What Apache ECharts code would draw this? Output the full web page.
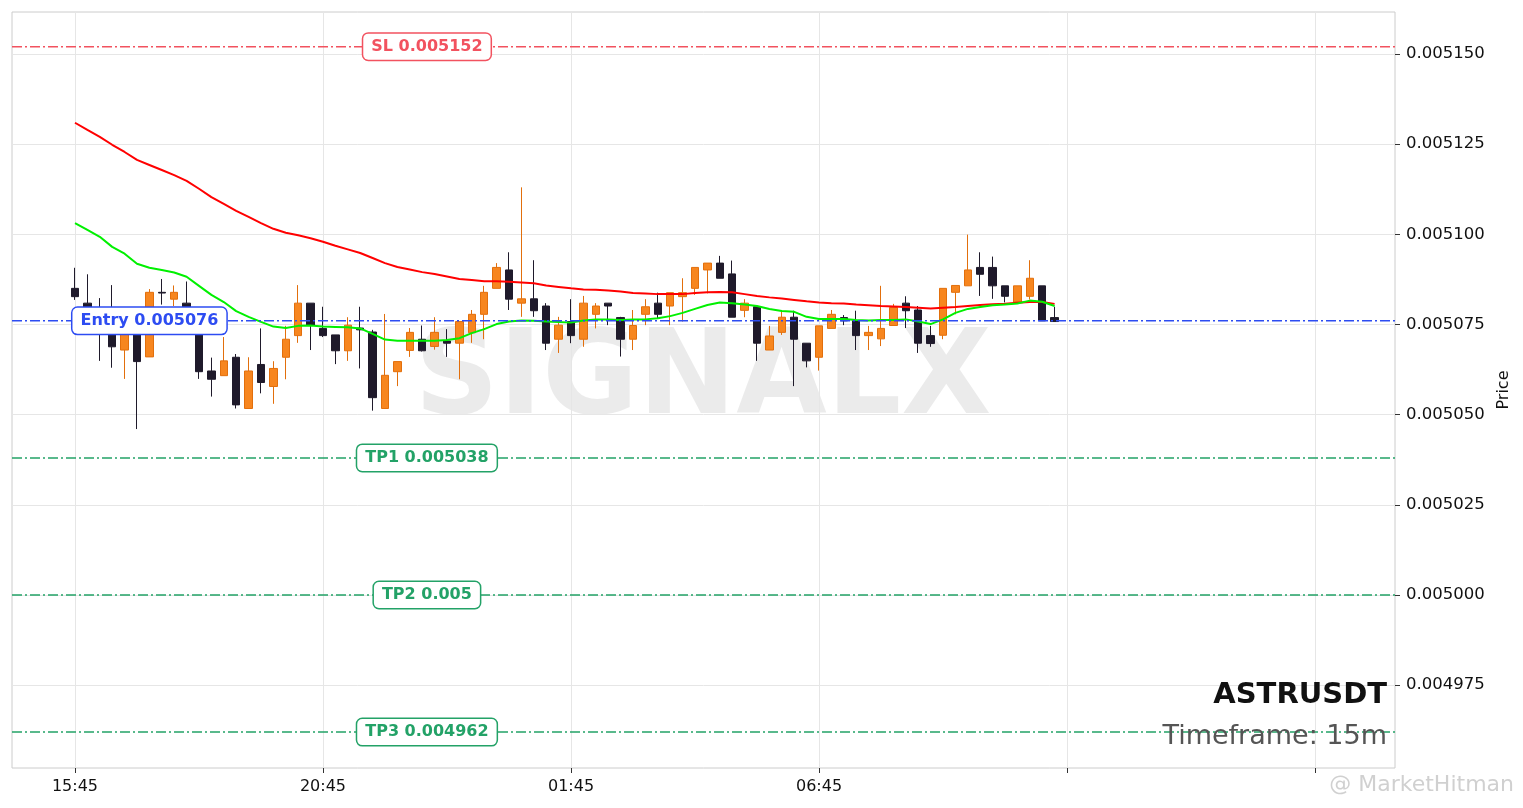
<!DOCTYPE html>
<html>
<head>
<meta charset="utf-8">
<script src="https://cdn.jsdelivr.net/npm/echarts@6/dist/echarts.min.js"></script>
<style>
html,body{margin:0;padding:0;background:#fff;}
#chart{width:1523px;height:808px;}
</style>
</head>
<body>
<div id="chart"></div>
<script>
// ---- data (15m candles, 15:45 -> 11:30) ----
const candleOpen = [
0.0050850,0.0050809,0.0050785,0.0050735,0.0050679,0.0050740,0.0050660,0.0050839,0.0050820,0.0050809,
0.0050770,0.0050621,0.0050608,0.0050659,0.0050517,0.0050639,0.0050578,0.0050659,0.0050719,0.0050809,
0.0050739,0.0050721,0.0050677,0.0050740,0.0050729,0.0050517,0.0050619,0.0050678,0.0050709,0.0050689,
0.0050704,0.0050698,0.0050727,0.0050778,0.0050850,0.0050901,0.0050809,0.0050821,0.0050801,0.0050709,
0.0050758,0.0050709,0.0050778,0.0050809,0.0050769,0.0050709,0.0050778,0.0050809,0.0050801,0.0050827,
0.0050850,0.0050901,0.0050920,0.0050890,0.0050789,0.0050799,0.0050679,0.0050728,0.0050770,0.0050698,
0.0050659,0.0050739,0.0050769,0.0050760,0.0050719,0.0050710,0.0050747,0.0050809,0.0050790,0.0050719,
0.0050720,0.0050839,0.0050857,0.0050908,0.0050908,0.0050857,0.0050812,0.0050828,0.0050857,0.0050769];
const candleHigh = [
0.0050907,0.0050889,0.0050823,0.0050859,0.0050750,0.0050755,0.0050848,0.0050876,0.0050858,0.0050869,
0.0050780,0.0050658,0.0050715,0.0050668,0.0050659,0.0050739,0.0050648,0.0050746,0.0050859,0.0050809,
0.0050799,0.0050721,0.0050770,0.0050799,0.0050735,0.0050779,0.0050647,0.0050740,0.0050747,0.0050770,
0.0050737,0.0050758,0.0050790,0.0050857,0.0050920,0.0050950,0.0051130,0.0050928,0.0050809,0.0050771,
0.0050820,0.0050829,0.0050809,0.0050809,0.0050771,0.0050790,0.0050820,0.0050838,0.0050838,0.0050878,
0.0050908,0.0050920,0.0050940,0.0050927,0.0050820,0.0050799,0.0050746,0.0050787,0.0050788,0.0050698,
0.0050746,0.0050790,0.0050776,0.0050788,0.0050746,0.0050857,0.0050807,0.0050828,0.0050801,0.0050746,
0.0050850,0.0050858,0.0050999,0.0050950,0.0050938,0.0050857,0.0050857,0.0050928,0.0050857,0.0050799];
const candleLow = [
0.0050818,0.0050760,0.0050649,0.0050630,0.0050599,0.0050460,0.0050660,0.0050805,0.0050801,0.0050755,
0.0050599,0.0050550,0.0050608,0.0050517,0.0050517,0.0050559,0.0050530,0.0050598,0.0050699,0.0050679,
0.0050715,0.0050640,0.0050649,0.0050628,0.0050511,0.0050517,0.0050579,0.0050660,0.0050675,0.0050680,
0.0050660,0.0050598,0.0050699,0.0050709,0.0050850,0.0050790,0.0050771,0.0050771,0.0050679,0.0050671,
0.0050698,0.0050688,0.0050739,0.0050748,0.0050661,0.0050679,0.0050748,0.0050767,0.0050748,0.0050758,
0.0050832,0.0050836,0.0050878,0.0050770,0.0050770,0.0050649,0.0050679,0.0050721,0.0050579,0.0050631,
0.0050622,0.0050739,0.0050748,0.0050679,0.0050679,0.0050690,0.0050747,0.0050740,0.0050671,0.0050688,
0.0050709,0.0050778,0.0050857,0.0050829,0.0050821,0.0050811,0.0050812,0.0050819,0.0050760,0.0050758];
const candleClose = [
0.0050827,0.0050785,0.0050735,0.0050688,0.0050740,0.0050647,0.0050839,0.0050837,0.0050839,0.0050770,
0.0050619,0.0050598,0.0050649,0.0050527,0.0050621,0.0050589,0.0050628,0.0050709,0.0050809,0.0050748,
0.0050719,0.0050677,0.0050748,0.0050735,0.0050547,0.0050609,0.0050647,0.0050728,0.0050677,0.0050728,
0.0050698,0.0050758,0.0050778,0.0050839,0.0050908,0.0050820,0.0050821,0.0050788,0.0050698,0.0050748,
0.0050719,0.0050809,0.0050801,0.0050801,0.0050709,0.0050747,0.0050799,0.0050778,0.0050838,0.0050838,
0.0050908,0.0050920,0.0050878,0.0050770,0.0050809,0.0050698,0.0050718,0.0050770,0.0050709,0.0050649,
0.0050746,0.0050778,0.0050760,0.0050719,0.0050728,0.0050739,0.0050797,0.0050788,0.0050698,0.0050697,
0.0050850,0.0050858,0.0050901,0.0050889,0.0050857,0.0050828,0.0050857,0.0050878,0.0050760,0.0050758];
const emaSlow = [
0.0051309,0.0051289,0.0051270,0.0051248,0.0051228,0.0051206,0.0051192,0.0051178,0.0051164,0.0051148,
0.0051126,0.0051103,0.0051084,0.0051065,0.0051048,0.0051031,0.0051015,0.0051004,0.0050997,0.0050989,
0.0050979,0.0050968,0.0050958,0.0050948,0.0050934,0.0050920,0.0050909,0.0050902,0.0050895,0.0050890,
0.0050883,0.0050876,0.0050873,0.0050870,0.0050870,0.0050868,0.0050866,0.0050864,0.0050858,0.0050854,
0.0050850,0.0050847,0.0050846,0.0050844,0.0050841,0.0050837,0.0050836,0.0050834,0.0050834,0.0050834,
0.0050837,0.0050839,0.0050840,0.0050839,0.0050834,0.0050829,0.0050825,0.0050822,0.0050818,0.0050814,
0.0050811,0.0050809,0.0050808,0.0050805,0.0050803,0.0050801,0.0050800,0.0050798,0.0050796,0.0050794,
0.0050796,0.0050798,0.0050801,0.0050804,0.0050806,0.0050807,0.0050810,0.0050812,0.0050812,0.0050807];
const emaFast = [
0.0051031,0.0051012,0.0050993,0.0050965,0.0050946,0.0050918,0.0050907,0.0050901,0.0050894,0.0050882,
0.0050857,0.0050832,0.0050812,0.0050787,0.0050771,0.0050757,0.0050744,0.0050740,0.0050746,0.0050747,
0.0050744,0.0050743,0.0050742,0.0050739,0.0050724,0.0050708,0.0050705,0.0050705,0.0050705,0.0050705,
0.0050707,0.0050712,0.0050726,0.0050737,0.0050751,0.0050758,0.0050761,0.0050760,0.0050758,0.0050757,
0.0050755,0.0050761,0.0050764,0.0050764,0.0050762,0.0050764,0.0050764,0.0050767,0.0050773,0.0050782,
0.0050793,0.0050804,0.0050811,0.0050809,0.0050805,0.0050801,0.0050793,0.0050787,0.0050785,0.0050771,
0.0050765,0.0050765,0.0050765,0.0050762,0.0050761,0.0050762,0.0050762,0.0050764,0.0050758,0.0050751,
0.0050764,0.0050782,0.0050793,0.0050798,0.0050803,0.0050805,0.0050808,0.0050816,0.0050813,0.0050801];

const xTickPos = [0, 20, 40, 60, 80, 100];
const xTickLabels = ['15:45', '20:45', '01:45', '06:45', '', ''];
const yTicks = [0.004975, 0.005, 0.005025, 0.00505, 0.005075, 0.0051, 0.005125, 0.00515];

const levelNames = ['SL', 'Entry', 'TP1', 'TP2', 'TP3'];
const levelValues = [0.005152, 0.005076, 0.005038, 0.005, 0.004962];
const levelLabelText = ['SL 0.005152', 'Entry 0.005076', 'TP1 0.005038', 'TP2 0.005', 'TP3 0.004962'];

const symbolName = 'ASTRUSDT';
const timeframeText = 'Timeframe: 15m';

// ---- styling / layout ----
const X_MIN = -5.08, X_MAX = 106.45;
const Y_MIN = 0.00495205, Y_MAX = 0.0051616;
const levelColors = ['#f2525f', '#2d4cf2', '#23a267', '#23a267', '#23a267'];
const levelLabelX = [28.38, 6.0, 28.38, 28.38, 28.38];
const FONT = '"DejaVu Sans", sans-serif';

const candleData = candleOpen.map((o, i) => [i, o, candleClose[i], candleLow[i], candleHigh[i]]);
const slowData = emaSlow.map((v, i) => [i, v]);
const fastData = emaFast.map((v, i) => [i, v]);

const dashDot = [10, 3, 2, 3];

const levelSeries = levelValues.map((v, i) => ({
  type: 'line', name: levelNames[i], z: 6, symbol: 'none', silent: true,
  data: [[X_MIN, v], [X_MAX, v]],
  lineStyle: {color: levelColors[i], width: 1.5, type: dashDot}
}));

const labelSeries = {
  type: 'scatter', name: 'level labels', z: 8, silent: true,
  symbol: 'rect', symbolSize: 1, itemStyle: {color: 'rgba(0,0,0,0)', opacity: 1},
  data: levelValues.map((v, i) => ({
    value: [levelLabelX[i], v],
    label: {
      show: true, position: 'inside', formatter: levelLabelText[i],
      color: levelColors[i], fontSize: 16, fontWeight: 'bold', fontFamily: FONT,
      backgroundColor: '#ffffff', borderColor: levelColors[i], borderWidth: 1.5, borderRadius: 5,
      padding: [4, 8], lineHeight: 18, opacity: 1
    }
  }))
};

const chart = echarts.init(document.getElementById('chart'), null, {renderer: 'canvas'});
const option = {
  animation: false,
  backgroundColor: '#ffffff',
  textStyle: {fontFamily: FONT},
  grid: {left: 12, right: 128, top: 12, bottom: 40, show: true, borderColor: '#cccccc', borderWidth: 1, backgroundColor: 'rgba(0,0,0,0)'},
  xAxis: {
    type: 'value', min: X_MIN, max: X_MAX,
    axisLine: {show: false, onZero: false},
    axisTick: {show: true, length: 5, lineStyle: {color: '#333'}, customValues: xTickPos},
    axisLabel: {
      customValues: xTickPos, color: '#111', fontSize: 16, margin: 11, fontFamily: FONT,
      formatter: v => { const k = xTickPos.indexOf(Math.round(v)); return k >= 0 ? xTickLabels[k] : ''; }
    },
    splitLine: {show: true, lineStyle: {color: '#e6e6e6', width: 1}}
  },
  yAxis: {
    type: 'value', position: 'right', min: Y_MIN, max: Y_MAX,
    name: 'Price', nameLocation: 'middle', nameRotate: 90, nameGap: 100,
    nameTextStyle: {fontSize: 16, color: '#111', fontFamily: FONT},
    axisLine: {show: false, onZero: false},
    axisTick: {show: true, length: 5, lineStyle: {color: '#333'}, customValues: yTicks},
    axisLabel: {customValues: yTicks, color: '#111', fontSize: 16.5, margin: 11, fontFamily: FONT, formatter: v => v.toFixed(6)},
    splitLine: {show: true, lineStyle: {color: '#e6e6e6', width: 1}}
  },
  graphic: [
    {type: 'text', x: 703, y: 383, z: -1, style: {text: 'SIGNALX', fontSize: 117, fontWeight: 'bold', fontFamily: FONT, fill: 'rgba(120,120,120,0.15)', align: 'center', verticalAlign: 'middle'}},
    {type: 'text', x: 1387, y: 695, z: 10, style: {text: symbolName, fontSize: 29, fontWeight: 'bold', fontFamily: FONT, fill: '#111', align: 'right', verticalAlign: 'middle'}},
    {type: 'text', x: 1387, y: 737, z: 10, style: {text: timeframeText, fontSize: 27, fontFamily: FONT, fill: '#555', align: 'right', verticalAlign: 'middle'}},
    {type: 'text', x: 1514, y: 785, z: 10, style: {text: '@ MarketHitman', fontSize: 22, fontFamily: FONT, fill: 'rgba(150,150,150,0.45)', align: 'right', verticalAlign: 'middle'}}
  ],
  series: [
    {
      type: 'candlestick', name: 'price', data: candleData, barWidth: 8, z: 2,
      encode: {x: 0, y: [1, 2, 3, 4]},
      itemStyle: {color: '#f7861f', color0: '#1f1a2b', borderColor: '#e26f0c', borderColor0: '#1f1a2b', borderWidth: 1}
    },
    {type: 'line', name: 'EMA slow', data: slowData, symbol: 'none', z: 4, lineStyle: {color: '#ff0000', width: 2}},
    {type: 'line', name: 'EMA fast', data: fastData, symbol: 'none', z: 5, lineStyle: {color: '#00f000', width: 2}},
    ...levelSeries,
    labelSeries
  ]
};
chart.setOption(option);
</script>
</body>
</html>
